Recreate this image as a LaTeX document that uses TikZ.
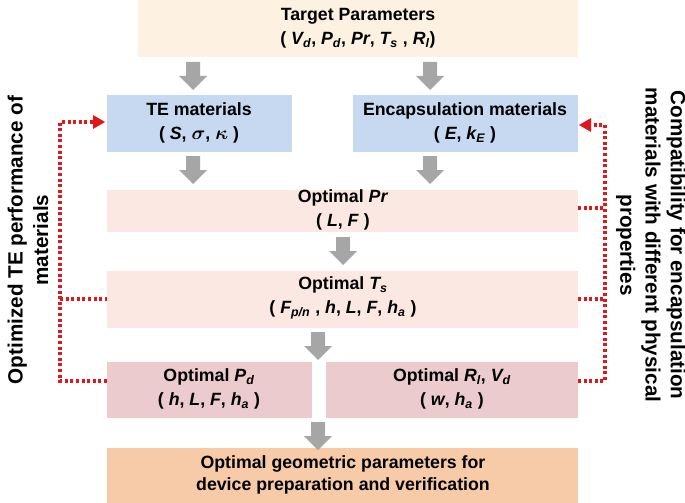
\documentclass[tikz,border=0pt]{standalone}
\usepackage{amsmath,amssymb,bm}
\usepackage{fontspec}
\setmainfont{Liberation Sans}
\usetikzlibrary{arrows.meta}
\definecolor{beige}{HTML}{FDF2E2}
\definecolor{tblue}{HTML}{C6D9F0}
\definecolor{lpink}{HTML}{FCE8E3}
\definecolor{dpink}{HTML}{EBCBCE}
\definecolor{orng}{HTML}{F8CBA8}
\definecolor{garr}{HTML}{A6A6A6}
\definecolor{dred}{HTML}{E0181B}
\begin{document}
\begin{tikzpicture}[x=0.75pt,y=-0.75pt,
 box/.style={draw=none,inner sep=0,font=\bfseries\fontsize{13.3}{16}\selectfont,align=center},
 red/.style={dred,line width=2.6pt,dash pattern=on 2.2pt off 2pt},
 garrow/.pic={\fill[garr] (-7,0)--(7,0)--(7,14)--(14,14)--(0,28)--(-14,14)--(-7,14)--cycle;}]
\useasboundingbox (0,0) rectangle (685,503);
\fill[beige] (138,0) rectangle (578,57);
\node[box] (tp) at (358,28) {Target Parameters\\[2pt]( \textit{V\textsubscript{d}}, \textit{P\textsubscript{d}}, \textit{Pr}, \textit{T\textsubscript{s}} , \textit{R\textsubscript{l}})};
\fill[tblue] (107,95) rectangle (292,152);
\node[box] (te) at (199,123) {TE materials\\[2pt]( \textit{S}, $\bm{\sigma}$, $\bm{\kappa}$ )};
\fill[tblue] (353,95) rectangle (578,152);
\node[box] (en) at (465,123) {Encapsulation materials\\[2pt]( \textit{E}, \textit{k\textsubscript{E}} )};
\fill[lpink] (107,190) rectangle (578,232);
\node[box] (pr) at (343,210) {Optimal \textit{Pr}\\[2pt]( \textit{L}, \textit{F} )};
\fill[lpink] (107,271) rectangle (578,328);
\node[box] (ts) at (343,298) {Optimal \textit{T\textsubscript{s}}\\[2pt]( \textit{F\textsubscript{p/n}} , \textit{h}, \textit{L}, \textit{F}, \textit{h\textsubscript{a}} )};
\fill[dpink] (107,362) rectangle (312,418);
\node[box] (pd) at (209,389) {Optimal \textit{P\textsubscript{d}}\\[2pt]( \textit{h}, \textit{L}, \textit{F}, \textit{h\textsubscript{a}} )};
\fill[dpink] (326,362) rectangle (578,418);
\node[box] (rl) at (452,389) {Optimal \textit{R\textsubscript{l}}, \textit{V\textsubscript{d}}\\[2pt]( \textit{w}, \textit{h\textsubscript{a}} )};
\fill[orng] (107,448) rectangle (578,503);
\node[box] (fin) at (343,475) {Optimal geometric parameters for\\device preparation and verification};
\pic at (193,62) {garrow};
\pic at (430,62) {garrow};
\pic at (193,156) {garrow};
\pic at (430,156) {garrow};
\pic at (343,237) {garrow};
\pic at (318,332) {garrow};
\pic at (318,422) {garrow};
% left feedback
\coordinate (l1) at (60,122);
\coordinate (l2) at (60,381);
\draw[red] (107,381) -- (l2) -- (l1) -- (96,122);
\draw[red] (60,299) -- (107,299);
\fill[dred] (105,122) -- (93,115) -- (93,129) -- cycle;
% right feedback
\coordinate (r1) at (605,125);
\coordinate (r2) at (605,381);
\draw[red] (578,381) -- (r2) -- (r1) -- (588,125);
\draw[red] (578,299) -- (605,299);
\draw[red] (578,208) -- (605,208);
\fill[dred] (579,125) -- (591,118) -- (591,132) -- cycle;
\node[box,rotate=90,font=\bfseries\fontsize{15.5}{19}\selectfont] (lt) at (28,240) {Optimized TE performance of\\materials};
\node[box,rotate=-90,font=\bfseries\fontsize{15.5}{19}\selectfont] (rt) at (651,245) {Compatibility for encapsulation\\materials with different physical\\properties};
\end{tikzpicture}
\end{document}
